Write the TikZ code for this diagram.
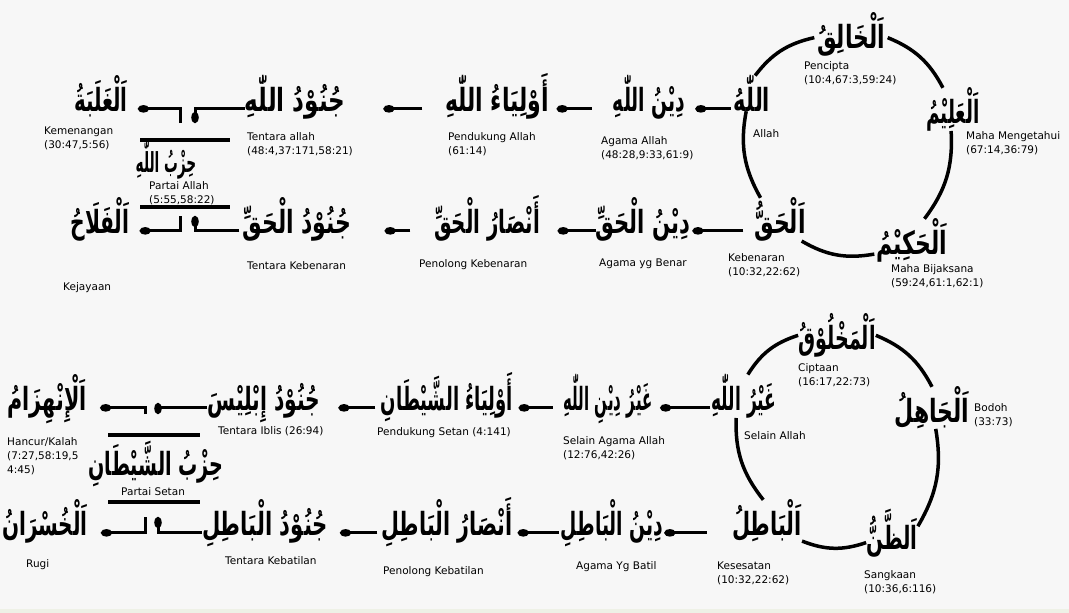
\documentclass[tikz,border=0pt]{standalone}
\usepackage{fontspec}
\usepackage{graphicx}
\usetikzlibrary{arrows.meta,positioning}
\TeXXeTstate=1
\newfontfamily\arabicfont[Script=Arabic]{DejaVu Sans}
\newfontfamily\labelfont{DejaVu Sans}
\definecolor{paper}{HTML}{F7F7F7}
\definecolor{strip}{HTML}{EEF1E6}
\newcommand{\arab}[2][1]{\scalebox{#1}[1.45]{\beginR #2\endR}}

\tikzset{
	word/.style={anchor=base,inner sep=0pt,font=\arabicfont\bfseries\fontsize{22}{26}\selectfont},
	gloss/.style={anchor=north west,inner sep=0pt,align=left,font=\labelfont\fontsize{10.5}{14}\selectfont},
	flow/.style={line width=3pt,-{Circle[length=11pt,width=7.5pt]}},
	ring/.style={line width=3.5pt,bend left=20},
	bar/.style={line width=3.5pt},
}

\begin{document}
\begin{tikzpicture}[x=1pt,y=-1pt]
	\fill[paper] (0,0) rectangle (1069,613);
	\fill[strip] (0,609) rectangle (1069,613);
	\useasboundingbox (0,0) rectangle (1069,613);

	% upper cycle
	\begin{scope}[every node/.style={word}]
		\node[minimum width=73] (khaliq) at (851,48) {\arab{اَلْخَالِقُ}};
		\node[minimum width=53] (alim) at (953,123) {\arab[0.84]{اَلْعَلِيْمُ}};
		\node[minimum width=75] (hakim) at (912,254) {\arab{اَلْحَكِيْمُ}};
		\node[minimum width=55] (haqq) at (780,233) {\arab{اَلْحَقُّ}};
		\node[minimum width=35] (allah) at (752,111) {\arab[0.95]{اللّٰهُ}};
		\node[minimum width=62] (dinallah) at (649,111) {\arab[0.85]{دِيْنُ اللّٰهِ}};
		\node[minimum width=105] (auliyaallah) at (497,111) {\arab{أَوْلِيَاءُ اللّٰهِ}};
		\node[minimum width=100] (jundallah) at (295,111) {\arab[1.05]{جُنُوْدُ اللّٰهِ}};
		\node[minimum width=52] (ghalabah) at (101,111) {\arab[0.9]{اَلْغَلَبَةُ}};
		\node[font=\arabicfont\bfseries\fontsize{19}{22}\selectfont] (hizballah) at (166,172) {\arab[0.72]{حِزْبُ اللّٰهِ}};
		\node[minimum width=55] (falah) at (100,233) {\arab[0.92]{اَلْفَلَاحُ}};
		\node[minimum width=115] (jundhaqq) at (297,233) {\arab{جُنُوْدُ الْحَقِّ}};
		\node[minimum width=113] (ansharhaqq) at (487,233) {\arab[0.9]{أَنْصَارُ الْحَقِّ}};
		\node[minimum width=91] (dinhaqq) at (643,233) {\arab[0.96]{دِيْنُ الْحَقِّ}};
	\end{scope}
	\begin{scope}[every node/.style={gloss}]
		\node (khaliqtext) at (804,61) {Pencipta\\(10:4,67:3,59:24)};
		\node (alimtext) at (966,131) {Maha Mengetahui\\(67:14,36:79)};
		\node (hakimtext) at (891,264) {Maha Bijaksana\\(59:24,61:1,62:1)};
		\node (haqqtext) at (728,253) {Kebenaran\\(10:32,22:62)};
		\node (allahtext) at (753,129) {Allah};
		\node (dinallahtext) at (601,136) {Agama Allah\\(48:28,9:33,61:9)};
		\node (auliyaallahtext) at (448,132) {Pendukung Allah\\(61:14)};
		\node (jundallahtext) at (247,132) {Tentara allah\\(48:4,37:171,58:21)};
		\node (ghalabahtext) at (44,127) {Kemenangan\\(30:47,5:56)};
		\node (hizballahtext) at (149,181) {Partai Allah\\(5:55,58:22)};
		\node (falahtext) at (63,282) {Kejayaan};
		\node (jundhaqqtext) at (247,261) {Tentara Kebenaran};
		\node (ansharhaqqtext) at (419,259) {Penolong Kebenaran};
		\node (dinhaqqtext) at (599,259) {Agama yg Benar};
	\end{scope}
	\begin{scope}[ring]
		\draw[ring] (allah.80) to (khaliq.185);
		\draw[ring] (khaliq.-5) to (alim.115);
		\draw[ring] (alim.265) to (hakim.60);
		\draw[ring] (hakim.200) to (haqq.-45);
		\draw[ring] (haqq.132) to (allah.252);
	\end{scope}
	\draw[flow,shorten <=3,shorten >=10] (allah.mid west) -- (dinallah.mid east);
	\draw[flow,shorten <=21,shorten >=7] (dinallah.mid west) -- (auliyaallah.mid east);
	\draw[flow,shorten <=22,shorten >=38] (auliyaallah.mid west) -- (jundallah.mid east);
	\draw[flow,shorten <=9,shorten >=2] (haqq.mid west) -- (dinhaqq.mid east);
	\draw[flow,shorten >=14] (dinhaqq.mid west) -- (ansharhaqq.mid east);
	\draw[flow,shorten <=20,shorten >=30] (ansharhaqq.mid west) -- (jundhaqq.mid east);
	\coordinate (hizballahin) at (195,123);
	\coordinate (hizballahout) at (180,123);
	\coordinate (hizballahup) at (195,216);
	\coordinate (hizballahdown) at (180,216);
	\draw[flow] (jundallah.mid west) -| (hizballahin);
	\draw[flow,shorten >=10] (hizballahout) |- (ghalabah.mid east);
	\draw[flow] (jundhaqq.mid west) -| (hizballahup);
	\draw[flow,shorten >=10] (hizballahdown) |- (falah.mid east);
	\draw[bar] (140,140) -- (230,140);
	\draw[bar] (140,207) -- (230,207);

	% lower cycle
	\begin{scope}[every node/.style={word}]
		\node[minimum width=77] (makhluq) at (837,349) {\arab[0.87]{اَلْمَخْلُوْقُ}};
		\node[minimum width=75] (jahil) at (932,422) {\arab{اَلْجَاهِلُ}};
		\node[minimum width=50] (zhann) at (892,549) {\arab[0.9]{اَلظَّنُّ}};
		\node[minimum width=67] (bathil) at (767,535) {\arab[0.95]{اَلْبَاطِلُ}};
		\node[minimum width=62] (ghairallah) at (744,410) {\arab[0.78]{غَيْرُ اللّٰهِ}};
		\node[minimum width=90] (ghairdin) at (608,410) {\arab[0.68]{غَيْرُ دِيْنِ اللّٰهِ}};
		\node[minimum width=133] (auliyasyaithan) at (447,410) {\arab[0.82]{أَوْلِيَاءُ الشَّيْطَانِ}};
		\node[minimum width=112] (jundiblis) at (264,410) {\arab[0.92]{جُنُوْدُ إِبْلِيْسَ}};
		\node[minimum width=80] (inhizam) at (47,410) {\arab[0.94]{اَلْإِنْهِزَامُ}};
		\node (hizbsyaithan) at (156,475) {\arab[0.87]{حِزْبُ الشَّيْطَانِ}};
		\node[minimum width=84] (khusran) at (45,535) {\arab[0.91]{اَلْخُسْرَانُ}};
		\node[minimum width=125] (jundbathil) at (265,535) {\arab[0.96]{جُنُوْدُ الْبَاطِلِ}};
		\node[minimum width=131] (ansharbathil) at (447,535) {\arab[0.94]{أَنْصَارُ الْبَاطِلِ}};
		\node[minimum width=100] (dinbathil) at (612,535) {\arab[0.85]{دِيْنُ الْبَاطِلِ}};
	\end{scope}
	\begin{scope}[every node/.style={gloss}]
		\node (makhluqtext) at (798,363) {Ciptaan\\(16:17,22:73)};
		\node (jahiltext) at (974,403) {Bodoh\\(33:73)};
		\node (zhanntext) at (864,570) {Sangkaan\\(10:36,6:116)};
		\node (bathiltext) at (717,562) {Kesesatan\\(10:32,22:62)};
		\node (ghairallahtext) at (744,431) {Selain Allah};
		\node (ghairdintext) at (563,436) {Selain Agama Allah\\(12:76,42:26)};
		\node (auliyasyaithantext) at (377,427) {Pendukung Setan (4:141)};
		\node (jundiblistext) at (218,426) {Tentara Iblis (26:94)};
		\node (inhizamtext) at (7,437) {Hancur/Kalah\\(7:27,58:19,5\\4:45)};
		\node (hizbsyaithantext) at (121,487) {Partai Setan};
		\node (khusrantext) at (26,559) {Rugi};
		\node (jundbathiltext) at (225,556) {Tentara Kebatilan};
		\node (ansharbathiltext) at (383,566) {Penolong Kebatilan};
		\node (dinbathiltext) at (576,561) {Agama Yg Batil};
	\end{scope}
	\begin{scope}[ring]
		\draw[ring] (ghairallah.80) to (makhluq.180);
		\draw[ring] (makhluq.0) to (jahil.90);
		\draw[ring] (jahil.-80) to (zhann.15);
		\draw[ring] (zhann.200) to (bathil.-30);
		\draw[ring] (bathil.100) to (ghairallah.250);
	\end{scope}
	\draw[flow,shorten <=1,shorten >=7] (ghairallah.mid west) -- (ghairdin.mid east);
	\draw[flow,shorten <=10,shorten >=5] (ghairdin.mid west) -- (auliyasyaithan.mid east);
	\draw[flow,shorten <=5,shorten >=18] (auliyasyaithan.mid west) -- (jundiblis.mid east);
	\draw[flow,shorten <=25,shorten >=1] (bathil.mid west) -- (dinbathil.mid east);
	\draw[flow,shorten <=2,shorten >=5] (dinbathil.mid west) -- (ansharbathil.mid east);
	\draw[flow,shorten <=4,shorten >=12] (ansharbathil.mid west) -- (jundbathil.mid east);
	\coordinate (hizbsyaithanin) at (158,414);
	\coordinate (hizbsyaithanout) at (145,414);
	\coordinate (hizbsyaithanup) at (158,517);
	\coordinate (hizbsyaithandown) at (145,517);
	\draw[flow] (jundiblis.mid west) -| (hizbsyaithanin);
	\draw[flow,shorten >=13] (hizbsyaithanout) |- (inhizam.mid east);
	\draw[flow] (jundbathil.mid west) -| (hizbsyaithanup);
	\draw[flow,shorten >=13] (hizbsyaithandown) |- (khusran.mid east);
	\draw[bar] (108,435) -- (200,435);
	\draw[bar] (108,502) -- (200,502);
\end{tikzpicture}
\end{document}
